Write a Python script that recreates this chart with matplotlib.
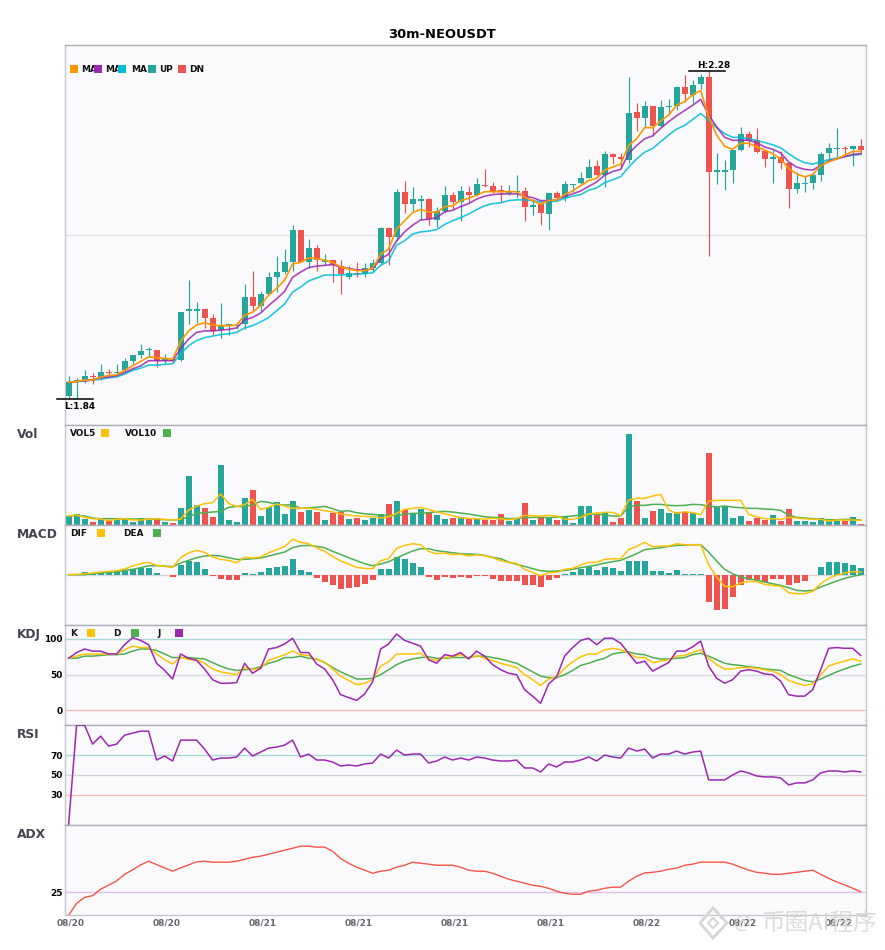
import numpy as np
import matplotlib
matplotlib.use("Agg")
from matplotlib import pyplot as plt
from matplotlib.patches import Rectangle, Polygon

# prices, 100 candles of 30m
opens = [1.843,1.862,1.864,1.871,1.869,1.875,1.874,1.879,1.891,1.898,
         1.905,1.906,1.891,1.893,1.892,1.958,1.958,1.961,1.948,1.932,
         1.937,1.937,1.940,1.976,1.964,1.980,2.004,2.010,2.023,2.066,
         2.024,2.043,2.024,2.026,2.018,2.004,2.009,2.007,2.015,2.022,
         2.069,2.057,2.117,2.102,2.106,2.108,2.080,2.092,2.114,2.104,
         2.117,2.113,2.127,2.125,2.120,2.116,2.117,2.119,2.098,2.101,
         2.088,2.116,2.110,2.127,2.129,2.137,2.152,2.141,2.168,2.164,
         2.160,2.225,2.217,2.233,2.206,2.232,2.233,2.259,2.248,2.263,
         2.272,2.145,2.145,2.147,2.174,2.195,2.187,2.172,2.162,2.164,
         2.156,2.121,2.128,2.129,2.141,2.170,2.175,2.176,2.175,2.179]
highs = [1.871,1.868,1.878,1.875,1.886,1.880,1.887,1.894,1.898,1.914,
         1.910,1.906,1.900,1.894,1.957,1.999,1.970,1.962,1.954,1.968,
         1.940,1.940,1.994,2.012,1.985,2.010,2.032,2.041,2.073,2.066,
         2.054,2.046,2.034,2.026,2.026,2.018,2.024,2.022,2.028,2.070,
         2.071,2.121,2.133,2.124,2.113,2.110,2.098,2.125,2.117,2.125,
         2.125,2.137,2.148,2.131,2.127,2.127,2.140,2.124,2.108,2.104,
         2.116,2.119,2.133,2.128,2.145,2.162,2.160,2.172,2.170,2.170,
         2.272,2.237,2.240,2.233,2.241,2.242,2.260,2.275,2.268,2.276,
         2.280,2.170,2.160,2.174,2.205,2.199,2.203,2.174,2.174,2.172,
         2.156,2.145,2.139,2.144,2.171,2.184,2.203,2.180,2.179,2.189]
lows = [1.840,1.840,1.861,1.860,1.865,1.869,1.871,1.875,1.886,1.894,
        1.896,1.882,1.888,1.888,1.890,1.940,1.941,1.935,1.926,1.921,
        1.926,1.934,1.934,1.958,1.958,1.980,1.983,2.008,2.012,2.023,
        2.016,2.011,2.019,1.996,1.981,2.001,2.004,2.004,2.012,2.020,
        2.020,2.052,2.090,2.092,2.080,2.073,2.070,2.090,2.094,2.078,
        2.104,2.112,2.124,2.116,2.104,2.114,2.110,2.078,2.086,2.073,
        2.067,2.108,2.105,2.117,2.128,2.136,2.136,2.124,2.155,2.148,
        2.156,2.199,2.205,2.193,2.205,2.221,2.228,2.238,2.237,2.256,
        2.031,2.128,2.120,2.129,2.172,2.178,2.170,2.151,2.129,2.148,
        2.096,2.116,2.118,2.122,2.132,2.162,2.162,2.167,2.152,2.168]
closes = [1.862,1.865,1.871,1.869,1.876,1.874,1.876,1.891,1.898,1.904,
          1.906,1.891,1.894,1.891,1.957,1.960,1.960,1.948,1.931,1.937,
          1.940,1.939,1.977,1.964,1.980,2.004,2.010,2.024,2.066,2.024,
          2.043,2.026,2.026,2.019,2.007,2.009,2.007,2.015,2.022,2.069,
          2.057,2.117,2.102,2.108,2.108,2.081,2.092,2.114,2.104,2.119,
          2.113,2.128,2.125,2.119,2.119,2.117,2.119,2.098,2.100,2.089,
          2.116,2.110,2.128,2.128,2.137,2.151,2.141,2.168,2.164,2.162,
          2.224,2.217,2.233,2.206,2.232,2.233,2.259,2.249,2.261,2.272,
          2.145,2.147,2.147,2.174,2.195,2.186,2.171,2.162,2.164,2.156,
          2.121,2.129,2.129,2.141,2.168,2.176,2.176,2.175,2.179,2.174]

ma_fast = [1.862,1.863,1.865,1.865,1.869,1.871,1.872,1.878,1.884,1.890,
           1.896,1.895,1.894,1.893,1.917,1.931,1.939,1.942,1.939,1.938,
           1.938,1.939,1.952,1.956,1.965,1.979,1.988,1.999,2.021,2.023,
           2.029,2.028,2.026,2.023,2.017,2.014,2.012,2.012,2.015,2.034,
           2.041,2.068,2.079,2.090,2.094,2.091,2.090,2.098,2.099,2.106,
           2.109,2.113,2.118,2.118,2.118,2.118,2.118,2.111,2.106,2.101,
           2.106,2.107,2.114,2.119,2.126,2.133,2.136,2.147,2.151,2.155,
           2.180,2.189,2.204,2.204,2.213,2.221,2.234,2.239,2.248,2.254,
           2.219,2.194,2.179,2.175,2.183,2.183,2.178,2.174,2.169,2.162,
           2.149,2.142,2.138,2.141,2.153,2.158,2.162,2.167,2.172,2.172]
ma_mid = [1.862,1.863,1.864,1.865,1.868,1.869,1.871,1.875,1.880,1.884,
          1.891,1.891,1.891,1.891,1.907,1.920,1.929,1.931,1.931,1.932,
          1.933,1.935,1.946,1.949,1.955,1.965,1.974,1.984,2.003,2.010,
          2.016,2.018,2.019,2.020,2.017,2.015,2.013,2.013,2.014,2.028,
          2.034,2.052,2.064,2.073,2.080,2.081,2.083,2.091,2.093,2.098,
          2.102,2.108,2.112,2.114,2.115,2.115,2.115,2.112,2.110,2.106,
          2.106,2.107,2.112,2.115,2.119,2.125,2.131,2.140,2.145,2.148,
          2.169,2.180,2.189,2.193,2.203,2.212,2.220,2.227,2.234,2.242,
          2.221,2.205,2.191,2.187,2.187,2.187,2.184,2.178,2.175,2.170,
          2.158,2.151,2.148,2.147,2.153,2.159,2.162,2.165,2.168,2.169]
ma_slow = [1.862,1.863,1.864,1.865,1.866,1.868,1.869,1.873,1.878,1.881,
           1.885,1.885,1.886,1.887,1.900,1.911,1.918,1.922,1.924,1.926,
           1.927,1.929,1.935,1.938,1.943,1.949,1.958,1.967,1.983,1.990,
           1.998,2.002,2.006,2.006,2.006,2.007,2.007,2.008,2.009,2.019,
           2.025,2.046,2.052,2.061,2.064,2.065,2.067,2.074,2.079,2.083,
           2.088,2.094,2.099,2.102,2.103,2.106,2.107,2.107,2.106,2.104,
           2.105,2.105,2.109,2.112,2.114,2.120,2.123,2.130,2.134,2.138,
           2.151,2.162,2.171,2.176,2.185,2.194,2.202,2.207,2.215,2.223,
           2.214,2.204,2.196,2.191,2.191,2.189,2.187,2.184,2.181,2.177,
           2.169,2.162,2.157,2.155,2.158,2.161,2.163,2.165,2.167,2.168]

volume = [26,32,17,8,19,11,17,17,8,20,17,20,8,5,50,146,59,50,23,179,
          14,8,80,104,26,53,68,32,71,38,44,38,14,35,38,17,20,14,20,32,
          62,71,44,35,47,35,29,17,20,23,17,17,14,14,32,11,17,65,14,23,
          23,14,26,5,56,56,29,35,8,20,272,71,20,41,47,35,38,38,35,20,
          215,53,56,20,26,11,20,14,29,11,47,11,11,8,20,11,11,11,23,2]
vol5 = [26,29,22,18,17,12,16,18,14,14,16,18,16,14,17,44,56,63,66,92,
        64,54,60,76,46,52,62,56,49,49,50,46,42,39,32,29,26,25,24,20,
        24,34,46,49,52,46,39,33,27,21,19,18,17,19,18,15,18,28,27,26,
        28,26,17,16,22,32,35,37,37,27,74,79,79,86,91,44,34,39,36,30,
        71,73,73,73,73,31,24,18,18,16,22,20,18,16,16,11,14,14,14,13]
vol10 = [26,28,26,20,18,18,18,18,17,17,17,16,15,14,15,24,34,36,38,40,
         52,55,54,60,70,67,61,59,60,49,51,52,55,48,40,42,36,33,31,28,
         28,26,32,34,34,36,39,40,38,35,32,28,24,22,21,18,19,21,22,22,
         21,23,24,26,29,31,32,29,26,26,54,58,58,61,61,58,57,58,61,60,
         56,53,56,53,51,49,49,47,46,43,29,22,20,18,16,15,15,16,16,14]

macd_hist = [0,0,7,5,8,6,10,12,18,21,19,4,-1,-7,30,42,39,18,-5,-14,
             -17,-17,6,3,9,21,24,27,48,15,9,-11,-22,-32,-44,-41,-38,-29,-17,18,
             18,54,48,36,24,-8,-17,-8,-11,-8,-11,-5,-5,-14,-20,-20,-20,-32,-32,-38,
             -17,-11,3,9,18,24,15,24,21,12,42,42,42,12,12,6,15,3,3,3,
             -83,-107,-104,-68,-32,-17,-17,-23,-14,-14,-32,-26,-20,-1,24,39,39,36,30,21]
dif = [0,1,3,5,8,10,12,17,26,33,37,28,25,22,51,66,73,67,53,46,
       43,36,52,50,53,66,75,84,106,97,93,81,70,55,41,32,22,19,18,42,
       48,79,88,93,90,70,63,65,60,62,56,60,57,51,42,37,34,16,7,-3,
       6,7,16,19,29,37,37,46,48,48,75,85,97,84,86,86,93,90,90,90,
       30,-7,-35,-36,-25,-20,-21,-29,-32,-35,-54,-57,-57,-50,-27,-11,-1,5,9,8]
dea = [0,0,0,3,5,7,9,13,16,21,27,27,26,24,35,43,51,56,58,56,
       51,46,46,48,50,56,62,68,81,87,88,85,81,70,61,51,42,33,27,32,
       39,50,61,71,78,78,72,69,66,63,62,61,58,52,48,38,31,25,18,12,
       10,11,13,16,21,25,29,35,39,43,53,63,75,78,81,85,88,89,90,90,
       68,41,16,3,-7,-12,-17,-22,-27,-32,-39,-47,-49,-47,-37,-28,-19,-11,-5,0]

k_line = [73,76,79,79,79,79,79,85,90,88,88,79,71,65,75,71,71,66,58,54,
          52,50,60,57,59,70,74,78,83,78,77,71,68,58,48,42,36,38,43,62,
          68,79,79,79,80,72,70,74,75,78,73,77,73,70,66,63,60,50,43,35,
          44,47,59,68,75,79,79,85,87,85,80,74,74,67,69,71,76,77,81,85,
          73,64,58,58,60,60,59,57,55,50,42,38,35,37,50,62,66,69,72,69]
d_line = [73,73,76,76,77,78,78,79,83,86,86,84,79,74,74,74,73,72,67,62,
          58,56,57,58,61,66,69,74,74,76,73,72,67,60,54,49,44,44,45,50,
          57,64,69,72,74,75,73,73,74,74,74,76,76,74,72,69,66,60,54,48,
          46,46,50,56,63,66,70,73,79,81,82,79,78,74,72,72,73,74,78,80,
          76,71,66,64,63,61,60,58,57,56,50,46,42,40,44,49,54,58,62,65]
j_line = [73,81,86,83,83,79,79,92,102,98,92,66,56,44,79,73,70,58,43,38,
          38,39,66,52,59,86,88,93,101,81,81,65,58,43,22,18,14,23,40,86,
          93,107,98,94,90,71,66,78,76,81,72,83,76,64,57,52,50,29,20,10,
          37,47,76,88,98,101,92,101,101,94,80,66,69,55,61,67,83,83,89,97,
          62,45,38,43,55,57,55,51,50,41,22,20,20,29,57,87,88,87,87,77]

rsi = [0,100,100,81,89,79,81,90,92,94,94,65,69,64,85,85,85,76,65,67,
       67,68,77,69,73,77,78,80,85,68,71,65,65,63,59,60,59,61,62,71,
       67,75,70,71,71,62,64,68,65,67,65,68,67,65,64,64,65,57,57,53,
       61,58,63,63,65,68,64,70,68,67,77,74,76,67,71,71,74,71,73,74,
       45,45,45,50,54,52,49,48,48,47,40,42,42,45,52,54,54,53,54,53]
adx = [10,17.8,21.7,22.8,27,29.6,32.4,36.7,39.6,42.8,45.2,43,40.9,38.7,40.9,42.8,44.8,45.2,44.6,44.6,
       44.6,45.2,46.5,47.8,48.5,49.8,51.1,52.4,53.7,55,55,54.4,54.4,51.7,47,43.9,41.3,39.4,37.4,38.7,
       39.4,41.3,42.6,44.6,43.9,43.3,42.6,42.6,42.6,41.3,39.4,38.7,38.7,37.4,35.4,33.5,32.2,30.9,29.6,28.9,
       27.6,25.7,24.3,23.7,23.7,25.7,26.3,27.6,28.3,28.3,32.2,35.4,37.6,38,38.7,40,40.7,42.6,43.3,44.6,
       44.6,44.6,44.6,43.3,41.3,39.4,38,37.4,36.7,36.7,37.4,38,38.7,39.4,36.7,34.1,31.7,29.8,27.6,25.4]

date_labels = ["08/20","08/20","08/21","08/21","08/21","08/21","08/22","08/22","08/22"]

UP = "#26A69A"
DOWN = "#EF5350"
ORANGE = "#FF9800"
PURPLE = "#9C27B0"
CYAN = "#00BCD4"
YELLOW = "#FFC107"
GREEN = "#4CAF50"
BG = "#FAFAFD"
BORDER = "#C6C6CF"
W, H = 885, 950
CJK = ["Noto Sans CJK SC", "DejaVu Sans"]

fig = plt.figure(figsize=(W / 100, H / 100), dpi=100)
x = np.arange(len(closes))


def panel(top, bottom):
    ax = fig.add_axes([65.3 / W, 1 - bottom / H, 800.4 / W, (bottom - top) / H])
    ax.set_facecolor(BG)
    ax.set_xlim(-0.41, 99.63)
    ax.set_xticks([])
    ax.tick_params(axis="y", length=0, pad=2)
    for s in ax.spines.values():
        s.set_color(BORDER)
        s.set_linewidth(1)
    ax.spines["top"].set_color("#AEAEB6")
    return ax


def key_box(left, top, color):
    fig.add_artist(Rectangle((left / W, 1 - (top + 8) / H), 8 / W, 8 / H,
                             transform=fig.transFigure, color=color, lw=0, zorder=5))


def key_text(left, top, s):
    fig.text(left / W, 1 - (top + 4) / H, s, fontsize=6.4, fontweight="bold",
             color="#111111", va="center", zorder=4)


def panel_name(top, s):
    fig.text(17 / W, 1 - top / H, s, fontsize=8.8, fontweight="bold",
             color="#444450", va="center")


def yticks(ax, vals):
    ax.set_yticks(vals)
    ax.set_yticklabels([str(v) for v in vals], fontweight="bold", fontsize=6.5)


# main price panel
ax_main = panel(45, 424.7)
ax_main.set_ylim(1.805, 2.315)
ax_main.set_yticks([])
ax_main.axhline(2.06, color="#E0E0E3", lw=1, zorder=1)
colors = [UP if c >= o else DOWN for o, c in zip(opens, closes)]
bottoms = [min(o, c) for o, c in zip(opens, closes)]
heights = [max(abs(c - o), 0.0012) for o, c in zip(opens, closes)]
ax_main.vlines(x, lows, highs, colors=colors, lw=0.85, zorder=2)
ax_main.bar(x, heights, 0.75, bottoms, color=colors, zorder=3)
ax_main.plot(x, ma_slow, color=CYAN, lw=1.2, alpha=0.85, zorder=4)
ax_main.plot(x, ma_mid, color=PURPLE, lw=1.2, alpha=0.85, zorder=5)
ax_main.plot(x, ma_fast, color=ORANGE, lw=1.2, zorder=6)

hi_i = int(np.argmax(highs))
lo_i = int(np.argmin(lows))
ax_main.plot([hi_i - 2.5, hi_i + 2], [max(highs)] * 2, color="black", lw=1.1, clip_on=False, zorder=7)
ax_main.plot([lo_i - 1.5, lo_i + 3], [min(lows)] * 2, color="black", lw=1.1, clip_on=False, zorder=7)
ax_main.text(hi_i + 0.6, max(highs) + 0.0015, f"H:{max(highs):.2f}", fontsize=6.4, fontweight="bold",
             ha="center", va="bottom")
ax_main.text(lo_i + 1.44, min(lows) - 0.0045, f"L:{min(lows):.2f}", fontsize=6.4, fontweight="bold",
             ha="center", va="top")

fig.text(442 / W, 1 - 34 / H, "30m-NEOUSDT", fontsize=9.4, fontweight="bold", ha="center", va="center")

for left, s in [(81, "MA"), (105, "MA"), (131, "MA"), (159, "UP"), (189, "DN")]:
    key_text(left, 65, s)
for left, c in [(70, ORANGE), (94, PURPLE), (118, CYAN), (148, UP), (178, DOWN)]:
    key_box(left, 65, c)

# volume
ax_vol = panel(424.7, 524.7)
ax_vol.set_ylim(0, 300)
ax_vol.set_yticks([])
ax_vol.bar(x, volume, 0.75, color=colors, zorder=2)
ax_vol.plot(x, vol10, color=GREEN, lw=1.1, zorder=3)
ax_vol.plot(x, vol5, color=YELLOW, lw=1.1, zorder=4)
panel_name(434.5, "Vol")
key_text(70, 429, "VOL5")
key_box(101, 429, YELLOW)
key_text(125, 429, "VOL10")
key_box(163, 429, GREEN)

# macd
ax_macd = panel(524.7, 624.7)
ax_macd.set_ylim(-150, 150)
ax_macd.set_yticks([])
ax_macd.axhline(0, color="#D8D8DC", lw=1, zorder=1)
ax_macd.bar(x, macd_hist, 0.75, color=[UP if v >= 0 else DOWN for v in macd_hist], zorder=2)
ax_macd.plot(x, dea, color=GREEN, lw=1.1, zorder=3)
ax_macd.plot(x, dif, color=YELLOW, lw=1.1, zorder=4)
panel_name(534.5, "MACD")
key_text(70, 529, "DIF")
key_box(97, 529, YELLOW)
key_text(123, 529, "DEA")
key_box(153, 529, GREEN)

# kdj
ax_kdj = panel(624.7, 724.7)
ax_kdj.set_ylim(-20, 120)
yticks(ax_kdj, [0, 50, 100])
ax_kdj.axhline(100, color="#A8DAD6", lw=1, zorder=1)
ax_kdj.axhline(50, color="#D8D8DC", lw=1, zorder=1)
ax_kdj.axhline(0, color="#F9B9B7", lw=1, zorder=1)
ax_kdj.plot(x, d_line, color=GREEN, lw=1.1, zorder=3)
ax_kdj.plot(x, k_line, color=YELLOW, lw=1.1, zorder=4)
ax_kdj.plot(x, j_line, color=PURPLE, lw=1.1, zorder=5)
panel_name(634.5, "KDJ")
key_text(70, 629, "K")
key_box(87, 629, YELLOW)
key_text(113, 629, "D")
key_box(131, 629, GREEN)
key_text(157, 629, "J")
key_box(175, 629, PURPLE)

# rsi
ax_rsi = panel(724.7, 824.7)
ax_rsi.set_ylim(0, 100.5)
yticks(ax_rsi, [30, 50, 70])
ax_rsi.axhline(70, color="#A8DAD6", lw=1, zorder=1)
ax_rsi.axhline(50, color="#D8D8DC", lw=1, zorder=1)
ax_rsi.axhline(30, color="#F9B9B7", lw=1, zorder=1)
ax_rsi.plot(x, rsi, color=PURPLE, lw=1.1, zorder=3)
panel_name(734.5, "RSI")

# adx
ax_adx = panel(824.7, 915.3)
ax_adx.set_ylim(10, 69)
yticks(ax_adx, [25])
ax_adx.axhline(25, color="#E1BEE7", lw=1, zorder=1)
ax_adx.plot(x, adx, color="#F44336", lw=1, alpha=0.9, zorder=3)
panel_name(834.5, "ADX")
ax_adx.set_xticks(np.arange(0, 100, 12) + 0.25)
ax_adx.set_xticklabels(date_labels, fontsize=6.5, fontweight="bold", color="#666670")
ax_adx.tick_params(axis="x", length=0, pad=2)

# watermark
wm = "#D6D6D6"
fig.add_artist(Polygon([(713 / W, 1 - 908 / H), (727 / W, 1 - 923 / H), (713 / W, 1 - 938 / H), (700 / W, 1 - 923 / H)],
                       closed=True, fill=False, ec=wm, lw=2, transform=fig.transFigure, zorder=6))
fig.add_artist(Polygon([(713 / W, 1 - 918 / H), (718 / W, 1 - 923 / H), (713 / W, 1 - 928 / H), (708 / W, 1 - 923 / H)],
                       closed=True, fill=False, ec=wm, lw=1.5, transform=fig.transFigure, zorder=6))
fig.text(734 / W, 1 - 923 / H, "@", fontsize=13, color=wm, va="center", family=CJK, zorder=6, alpha=0.85)
fig.text(761 / W, 1 - 923 / H, "币圈AI程序", fontsize=17, color=wm, va="center", family=CJK, zorder=6, alpha=0.85)

fig.savefig("out.png", dpi=100, facecolor="white")
